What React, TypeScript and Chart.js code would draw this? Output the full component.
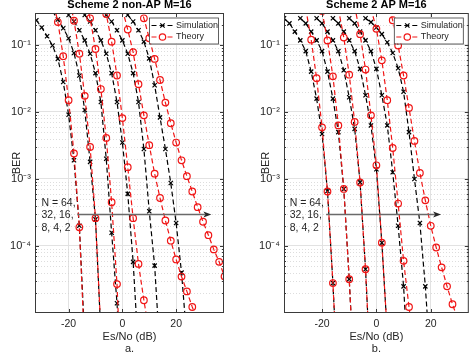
import React, { useEffect, useRef } from 'react';
import { Chart, registerables } from 'chart.js';
Chart.register(...registerables);

// ---------- shared labels / ticks ----------
const X_TICKS = [-20, 0, 20];
const Y_TICKS = [1e-4, 1e-3, 1e-2, 1e-1];
const Y_MIN = 1e-5;
const Y_MAX = 0.3;
const LEGEND_LABELS = ['Simulation', 'Theory'];
const NOTE_LINES = ['N = 64,', '32, 16,', '8, 4, 2'];
const NOTE_BER = 3e-4;

// ---------- panel a : Scheme 2 non-AP ----------
const aSimX64 = [-32, -30, -28, -26, -24, -22, -20, -18, -16, -14];
const aSimY64 = [0.234, 0.182, 0.135, 0.098, 0.062, 0.028, 0.0091, 0.0019, 2.0e-4, 4e-6];
const aSimX32 = [-26, -24, -22, -20, -18, -16, -14, -12, -10, -8];
const aSimY32 = [0.32, 0.24, 0.178, 0.126, 0.076, 0.035, 0.0107, 0.0018, 2.5e-4, 5e-6];
const aSimX16 = [-20, -18, -16, -14, -12, -10, -8, -6, -4, -2, 0];
const aSimY16 = [0.28, 0.224, 0.166, 0.117, 0.074, 0.038, 0.0141, 0.002, 1.58e-4, 1.4e-5, 5e-7];
const aSimX8 = [-14, -12, -10, -8, -6, -4, -2, 0, 2, 4, 6];
const aSimY8 = [0.28, 0.224, 0.166, 0.117, 0.074, 0.038, 0.0141, 0.0035, 6e-4, 5.8e-5, 2.5e-6];
const aSimX4 = [-6, -4, -2, 0, 2, 4, 6, 8, 10, 12, 14];
const aSimY4 = [0.28, 0.224, 0.166, 0.117, 0.074, 0.038, 0.0141, 0.0028, 3.3e-4, 5.1e-5, 2.5e-6];
const aSimX2 = [2, 4, 6, 8, 10, 12, 14, 16, 18, 20, 22, 24];
const aSimY2 = [0.28, 0.224, 0.166, 0.112, 0.063, 0.025, 0.0083, 0.0028, 8.7e-4, 2.2e-4, 4e-5, 4e-6];

const aThX64 = [-26, -24, -22, -20, -18, -16, -14];
const aThY64 = [0.5, 0.22, 0.068, 0.015, 0.0024, 1.9e-4, 2.8e-6];
const aThX32 = [-20, -18, -16, -14, -12, -10, -8];
const aThY32 = [0.56, 0.23, 0.074, 0.0174, 0.003, 2.6e-4, 5.6e-6];
const aThX16 = [-14, -12, -10, -8, -6, -4, -2, 0];
const aThY16 = [0.5, 0.25, 0.087, 0.022, 0.0041, 4.5e-4, 2.7e-5, 3.2e-7];
const aThX8 = [-8, -6, -4, -2, 0, 2, 4, 6, 8, 10];
const aThY8 = [0.56, 0.29, 0.112, 0.035, 0.0081, 0.0015, 2.6e-4, 5.4e-5, 1.55e-5, 5e-6];
const aThX4 = [0, 2, 4, 6, 8, 10, 12, 14, 16, 18, 20, 22, 24, 26, 28];
const aThY4 = [0.34, 0.17, 0.078, 0.026, 0.0089, 0.0032, 0.0012, 5.2e-4, 2.4e-4, 1.2e-4, 6.3e-5, 3.5e-5, 2.1e-5, 1.23e-5, 7.6e-6];
const aThX2 = [6, 8, 10, 12, 14, 16, 18, 20, 22, 24, 26, 28, 30, 32, 34, 36, 38];
const aThY2 = [0.45, 0.25, 0.126, 0.062, 0.03, 0.0138, 0.0068, 0.0035, 0.0019, 0.0011, 6.5e-4, 3.8e-4, 2.3e-4, 1.45e-4, 8.9e-5, 5.8e-5, 3.5e-5];

// ---------- panel b : Scheme 2 AP ----------
const bSimX64 = [-34, -32, -30, -28, -26, -24, -22, -20, -18, -16, -14];
const bSimY64 = [0.25, 0.21, 0.158, 0.117, 0.081, 0.04, 0.0158, 0.0047, 6.6e-4, 2.8e-5, 6.3e-7];
const bSimX32 = [-28, -26, -24, -22, -20, -18, -16, -14, -12, -10, -8];
const bSimY32 = [0.25, 0.21, 0.158, 0.117, 0.081, 0.04, 0.0158, 0.005, 7.1e-4, 3.2e-5, 8e-7];
const bSimX16 = [-22, -20, -18, -16, -14, -12, -10, -8, -6, -4, -2];
const bSimY16 = [0.25, 0.21, 0.158, 0.117, 0.081, 0.042, 0.0166, 0.0056, 8.9e-4, 4.5e-5, 1e-6];
const bSimX8 = [-16, -14, -12, -10, -8, -6, -4, -2, 0, 2, 4];
const bSimY8 = [0.25, 0.21, 0.158, 0.117, 0.081, 0.044, 0.0178, 0.0063, 0.0014, 1.12e-4, 5e-6];
const bSimX4 = [-10, -8, -6, -4, -2, 0, 2, 4, 6, 8, 10, 12];
const bSimY4 = [0.25, 0.21, 0.158, 0.117, 0.081, 0.044, 0.0178, 0.0063, 0.00126, 2e-4, 2.5e-5, 1e-6];
const bSimX2 = [-4, -2, 0, 2, 4, 6, 8, 10, 12, 14, 16, 18, 20];
const bSimY2 = [0.25, 0.219, 0.182, 0.145, 0.11, 0.076, 0.045, 0.02, 0.005, 0.001, 2.2e-4, 2.5e-5, 1.6e-6];

const bThX64 = [-26, -24, -22, -20, -18, -16, -14];
const bThY64 = [0.35, 0.12, 0.032, 0.0059, 6.5e-4, 2.8e-5, 6.3e-7];
const bThX32 = [-20, -18, -16, -14, -12, -10, -8];
const bThY32 = [0.32, 0.117, 0.034, 0.0063, 7.1e-4, 3.2e-5, 8e-7];
const bThX16 = [-14, -12, -10, -8, -6, -4, -2];
const bThY16 = [0.35, 0.129, 0.036, 0.0071, 8.9e-4, 4.5e-5, 1e-6];
const bThX8 = [-8, -6, -4, -2, 0, 2, 4];
const bThY8 = [0.38, 0.145, 0.043, 0.0089, 0.0016, 1.12e-4, 5e-6];
const bThX4 = [-2, 0, 2, 4, 6, 8, 10, 12, 14];
const bThY4 = [0.35, 0.174, 0.059, 0.015, 0.0029, 4.3e-4, 6e-5, 1.23e-5, 2.5e-6];
const bThX2 = [4, 6, 8, 10, 12, 14, 16, 18, 20, 22, 24, 26, 28, 30];
const bThY2 = [0.45, 0.234, 0.098, 0.035, 0.0115, 0.0037, 0.00123, 4.8e-4, 2.0e-4, 9.5e-5, 4.8e-5, 2.5e-5, 1.35e-5, 7.9e-6];

// ---------- styling ----------
const FONT = '"Liberation Sans", Arial, Helvetica, sans-serif';
const TXT = '#262626';
const RED = '#f01616';
const W = 237;
const H = 353;

const SUP: Record<string, string> = { '-': '⁻', '0': '⁰', '1': '¹', '2': '²', '3': '³', '4': '⁴', '5': '⁵', '6': '⁶', '7': '⁷', '8': '⁸', '9': '⁹' };
const supText = (n: number) => String(n).split('').map((c) => SUP[c] || c).join('');

type Panel = {
  title: string;
  sub: string;
  xMin: number;
  xMax: number;
  yAxisW: number;
  padRight: number;
  sims: [number[], number[]][];
  ths: [number[], number[]][];
  arrowFrom: number;
  arrowTo: number;
  noteX: number;
};

const PANEL_A: Panel = {
  title: 'Scheme 2 non-AP M=16',
  sub: 'a.',
  xMin: -32.5,
  xMax: 37.8,
  yAxisW: 35,
  padRight: 13,
  sims: [[aSimX64, aSimY64], [aSimX32, aSimY32], [aSimX16, aSimY16], [aSimX8, aSimY8], [aSimX4, aSimY4], [aSimX2, aSimY2]],
  ths: [[aThX64, aThY64], [aThX32, aThY32], [aThX16, aThY16], [aThX8, aThY8], [aThX4, aThY4], [aThX2, aThY2]],
  arrowFrom: -16.7,
  arrowTo: 33.1,
  noteX: -30.1,
};

const PANEL_B: Panel = {
  title: 'Scheme 2 AP M=16',
  sub: 'b.',
  xMin: -34,
  xMax: 34,
  yAxisW: 47,
  padRight: 3,
  sims: [[bSimX64, bSimY64], [bSimX32, bSimY32], [bSimX16, bSimY16], [bSimX8, bSimY8], [bSimX4, bSimY4], [bSimX2, bSimY2]],
  ths: [[bThX64, bThY64], [bThX32, bThY32], [bThX16, bThY16], [bThX8, bThY8], [bThX4, bThY4], [bThX2, bThY2]],
  arrowFrom: -18.5,
  arrowTo: 23.8,
  noteX: -31.9,
};

function drawCross(ctx: CanvasRenderingContext2D, x: number, y: number, r: number) {
  ctx.beginPath();
  ctx.moveTo(x - r, y - r);
  ctx.lineTo(x + r, y + r);
  ctx.moveTo(x - r, y + r);
  ctx.lineTo(x + r, y - r);
  ctx.stroke();
}

function makePlugin(p: Panel) {
  return {
    id: 'panelDecor',
    beforeDatasetsDraw(chart: any) {
      const { ctx, chartArea: a, scales } = chart;
      const y = scales.y;
      ctx.save();
      ctx.strokeStyle = '#d4d4d4';
      ctx.lineWidth = 0.8;
      ctx.setLineDash([1, 2]);
      for (let e = -5; e <= -1; e++) {
        for (let m = 2; m <= 9; m++) {
          const v = m * Math.pow(10, e);
          if (v > Y_MAX) continue;
          const py = Math.round(y.getPixelForValue(v)) + 0.5;
          ctx.beginPath();
          ctx.moveTo(a.left, py);
          ctx.lineTo(a.right, py);
          ctx.stroke();
        }
      }
      ctx.restore();
    },
    afterDatasetsDraw(chart: any) {
      const { ctx, chartArea: a, scales } = chart;
      const x = scales.x;
      const y = scales.y;
      ctx.save();
      // frame
      ctx.strokeStyle = '#3a3a3a';
      ctx.lineWidth = 1;
      ctx.setLineDash([]);
      ctx.strokeRect(a.left + 0.5, a.top + 0.5, a.right - a.left - 1, a.bottom - a.top - 1);
      // inner ticks
      ctx.beginPath();
      for (let e = -5; e <= -1; e++) {
        for (let m = 1; m <= 9; m++) {
          const v = m * Math.pow(10, e);
          if (v > Y_MAX || v <= Y_MIN) continue;
          const py = Math.round(y.getPixelForValue(v)) + 0.5;
          const len = m === 1 ? 4 : 2;
          ctx.moveTo(a.left, py);
          ctx.lineTo(a.left + len, py);
          ctx.moveTo(a.right, py);
          ctx.lineTo(a.right - len, py);
        }
      }
      X_TICKS.forEach((t) => {
        const px = Math.round(x.getPixelForValue(t)) + 0.5;
        ctx.moveTo(px, a.bottom);
        ctx.lineTo(px, a.bottom - 4);
        ctx.moveTo(px, a.top);
        ctx.lineTo(px, a.top + 4);
      });
      ctx.stroke();

      // annotation arrow
      const ay = Math.round(y.getPixelForValue(NOTE_BER)) + 0.5;
      const ax0 = x.getPixelForValue(p.arrowFrom);
      const ax1 = x.getPixelForValue(p.arrowTo);
      ctx.strokeStyle = '#6a6a6a';
      ctx.lineWidth = 1.3;
      ctx.beginPath();
      ctx.moveTo(ax0, ay);
      ctx.lineTo(ax1 - 6, ay);
      ctx.stroke();
      ctx.fillStyle = '#262626';
      ctx.beginPath();
      ctx.moveTo(ax1, ay);
      ctx.lineTo(ax1 - 8, ay - 3);
      ctx.lineTo(ax1 - 6, ay);
      ctx.lineTo(ax1 - 8, ay + 3);
      ctx.closePath();
      ctx.fill();
      // annotation text
      ctx.fillStyle = TXT;
      ctx.font = `10.5px ${FONT}`;
      ctx.textAlign = 'left';
      ctx.textBaseline = 'middle';
      const nx = x.getPixelForValue(p.noteX);
      const offs = [-11, 0.8, 14];
      NOTE_LINES.forEach((s, i) => ctx.fillText(s, nx, ay + offs[i]));

      // legend
      const lw = 69;
      const lh = 26;
      const lx = a.right - 6 - lw;
      const ly = a.top + 4.5;
      ctx.fillStyle = '#fff';
      ctx.fillRect(lx, ly, lw, lh);
      ctx.strokeStyle = '#3a3a3a';
      ctx.lineWidth = 0.8;
      ctx.strokeRect(lx + 0.5, ly + 0.5, lw, lh);
      const rows = [ly + 8, ly + 19.5];
      ctx.lineWidth = 1.2;
      ctx.strokeStyle = '#000';
      ctx.setLineDash([5, 3]);
      ctx.beginPath();
      ctx.moveTo(lx + 2.5, rows[0]);
      ctx.lineTo(lx + 25, rows[0]);
      ctx.stroke();
      ctx.setLineDash([]);
      drawCross(ctx, lx + 13.5, rows[0], 2.2);
      ctx.strokeStyle = RED;
      ctx.setLineDash([5, 3]);
      ctx.beginPath();
      ctx.moveTo(lx + 2.5, rows[1]);
      ctx.lineTo(lx + 25, rows[1]);
      ctx.stroke();
      ctx.setLineDash([]);
      ctx.fillStyle = '#fff';
      ctx.beginPath();
      ctx.arc(lx + 13.5, rows[1], 3.2, 0, Math.PI * 2);
      ctx.fill();
      ctx.stroke();
      ctx.fillStyle = TXT;
      ctx.font = `9px ${FONT}`;
      ctx.textAlign = 'left';
      ctx.textBaseline = 'middle';
      ctx.fillText(LEGEND_LABELS[0], lx + 27, rows[0]);
      ctx.fillText(LEGEND_LABELS[1], lx + 27, rows[1]);

      // titles & axis labels
      const cx = (a.left + a.right) / 2;
      ctx.fillStyle = '#000';
      ctx.font = `bold 11px ${FONT}`;
      ctx.textAlign = 'center';
      ctx.textBaseline = 'alphabetic';
      ctx.fillText(p.title, cx, 8);
      ctx.fillStyle = TXT;
      ctx.font = `11px ${FONT}`;
      ctx.textBaseline = 'middle';
      ctx.fillText('Es/No (dB)', cx, 337);
      ctx.fillText(p.sub, cx, 349);
      ctx.save();
      ctx.translate(a.left - 18, (a.top + a.bottom) / 2);
      ctx.rotate(-Math.PI / 2);
      ctx.fillText('BER', 0, 0);
      ctx.restore();
      ctx.restore();
    },
  };
}

function makeConfig(p: Panel): any {
  const datasets: any[] = [];
  p.ths.forEach(([xs, ys]) => {
    datasets.push({
      label: LEGEND_LABELS[1],
      data: xs.map((v, i) => ({ x: v, y: ys[i] })),
      borderColor: RED,
      borderWidth: 1.2,
      borderDash: [5, 3],
      pointStyle: 'circle',
      pointRadius: 3.3,
      pointBorderColor: RED,
      pointBackgroundColor: 'rgba(255,255,255,0)',
      pointBorderWidth: 1.2,
      fill: false,
      tension: 0,
      order: 0,
    });
  });
  p.sims.forEach(([xs, ys]) => {
    datasets.push({
      label: LEGEND_LABELS[0],
      data: xs.map((v, i) => ({ x: v, y: ys[i] })),
      borderColor: '#000',
      borderWidth: 1.2,
      borderDash: [5, 3],
      pointStyle: 'crossRot',
      pointRadius: 3,
      pointBorderColor: '#000',
      pointBorderWidth: 1.2,
      fill: false,
      tension: 0,
      order: 1,
    });
  });
  const tickFont = { family: FONT, size: 10.5 };
  return {
    type: 'line',
    data: { datasets },
    options: {
      animation: false,
      responsive: false,
      devicePixelRatio: 1,
      layout: { padding: { left: 0, right: p.padRight, top: 13, bottom: 0 } },
      plugins: { legend: { display: false }, tooltip: { enabled: false }, title: { display: false } },
      scales: {
        x: {
          type: 'linear',
          min: p.xMin,
          max: p.xMax,
          afterBuildTicks: (s: any) => {
            s.ticks = X_TICKS.map((v) => ({ value: v }));
          },
          afterFit: (s: any) => {
            s.height = 40;
          },
          grid: { color: '#e2e2e2', lineWidth: 1, drawTicks: false },
          border: { display: false },
          ticks: { padding: 5, font: tickFont, color: TXT, maxRotation: 0 },
        },
        y: {
          type: 'logarithmic',
          min: Y_MIN,
          max: Y_MAX,
          afterBuildTicks: (s: any) => {
            s.ticks = Y_TICKS.map((v) => ({ value: v }));
          },
          afterFit: (s: any) => {
            s.width = p.yAxisW;
          },
          grid: { color: '#e2e2e2', lineWidth: 1, drawTicks: false },
          border: { display: false },
          ticks: {
            padding: 4,
            font: { family: FONT, size: 11 },
            color: TXT,
            callback: (v: number) => '10' + supText(Math.round(Math.log10(v))),
          },
        },
      },
    },
    plugins: [makePlugin(p)],
  };
}

function PanelChart({ panel, left }: { panel: Panel; left: number }) {
  const ref = useRef<HTMLCanvasElement | null>(null);
  useEffect(() => {
    if (!ref.current) return;
    const chart = new Chart(ref.current, makeConfig(panel));
    return () => chart.destroy();
  }, [panel]);
  return (
    <canvas
      ref={ref}
      width={W}
      height={H}
      style={{ position: 'absolute', left, top: 0, width: W, height: H }}
    />
  );
}

export default function App() {
  return (
    <div style={{ position: 'fixed', left: 0, top: 0, width: 474, height: 353, background: '#fff', overflow: 'hidden' }}>
      <PanelChart panel={PANEL_A} left={0} />
      <PanelChart panel={PANEL_B} left={237} />
    </div>
  );
}
